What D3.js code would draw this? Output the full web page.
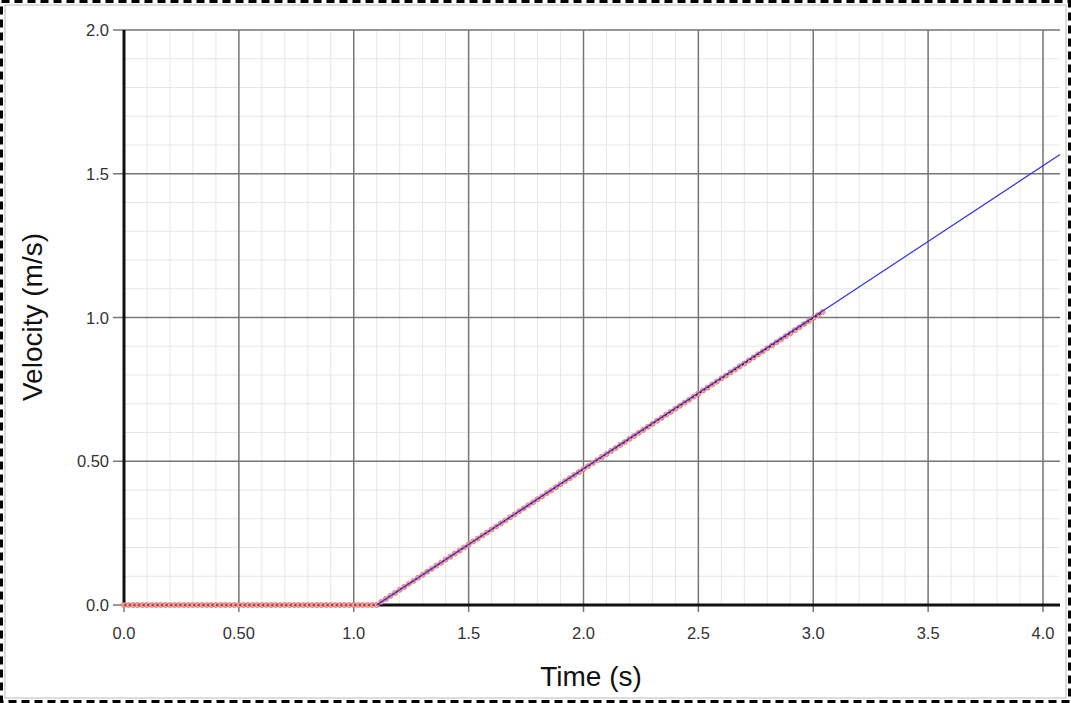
<!DOCTYPE html>
<html><head><meta charset="utf-8">
<script src="https://cdn.jsdelivr.net/npm/d3@7"></script>
<style>body{margin:0;background:#fff}svg{display:block;font-family:"Liberation Sans",Arial,sans-serif}</style>
</head><body><svg width="1071" height="703"></svg>
<script>
// measured velocities, 0.02 s apart starting at t = 0
const zeroCount = 56;
const rampVelocity = [
0.011,0.021,0.032,0.042,0.053,0.063,0.074,0.084,0.095,0.105,
0.116,0.126,0.137,0.147,0.158,0.168,0.179,0.189,0.200,0.210,
0.221,0.231,0.242,0.252,0.263,0.273,0.284,0.294,0.305,0.315,
0.326,0.336,0.347,0.357,0.368,0.378,0.389,0.399,0.410,0.420,
0.431,0.441,0.452,0.462,0.473,0.483,0.494,0.504,0.515,0.525,
0.536,0.546,0.557,0.567,0.578,0.588,0.599,0.609,0.620,0.630,
0.641,0.651,0.662,0.672,0.683,0.693,0.704,0.714,0.725,0.735,
0.746,0.756,0.767,0.777,0.788,0.798,0.809,0.819,0.830,0.840,
0.851,0.861,0.872,0.882,0.893,0.903,0.914,0.924,0.935,0.945,
0.956,0.966,0.977,0.987,0.998,1.008,1.019];
const velocity = new Array(zeroCount).fill(0).concat(rampVelocity);
const timeStep = 0.02;
const fitTime = [1.10, 4.074];
const fitVelocity = [0, 1.567];
const xTicks = [0, 0.5, 1, 1.5, 2, 2.5, 3, 3.5, 4];
const xLabels = ["0.0","0.50","1.0","1.5","2.0","2.5","3.0","3.5","4.0"];
const yTicks = [0, 0.5, 1, 1.5, 2];
const yLabels = ["0.0","0.50","1.0","1.5","2.0"];

const svg = d3.select("svg");
const x = d3.scaleLinear().domain([0, 4.074]).range([124, 1060]);
const y = d3.scaleLinear().domain([0, 2]).range([605, 30]);

// page borders
svg.append("rect").attr("x",1.5).attr("y",1.5).attr("width",1068).attr("height",700)
  .attr("fill","none").attr("stroke","#000").attr("stroke-width",3).attr("stroke-dasharray","8,5");
svg.append("rect").attr("x",5).attr("y",5).attr("width",1061).attr("height",693)
  .attr("fill","none").attr("stroke","#bbb").attr("stroke-width",1);

// minor grid
const minorX = d3.range(0, 41).map(i => i / 10).filter(v => v <= 4.074);
const minorY = d3.range(0, 21).map(i => i / 10);
svg.append("g").selectAll("line").data(minorX).join("line")
  .attr("x1", d => x(d)).attr("x2", d => x(d)).attr("y1", 30).attr("y2", 605)
  .attr("stroke", "#e6e6e6").attr("stroke-width", 1);
svg.append("g").selectAll("line").data(minorY).join("line")
  .attr("y1", d => y(d)).attr("y2", d => y(d)).attr("x1", 124).attr("x2", 1060)
  .attr("stroke", "#e6e6e6").attr("stroke-width", 1);

// major grid
svg.append("g").selectAll("line").data(xTicks).join("line")
  .attr("x1", d => x(d)).attr("x2", d => x(d)).attr("y1", 30).attr("y2", 612)
  .attr("stroke", "#777").attr("stroke-width", 1.5);
svg.append("g").selectAll("line").data(yTicks).join("line")
  .attr("y1", d => y(d)).attr("y2", d => y(d)).attr("x1", 113).attr("x2", 1060)
  .attr("stroke", "#777").attr("stroke-width", 1.5);

// axes
svg.append("line").attr("x1",124).attr("x2",124).attr("y1",30).attr("y2",605).attr("stroke","#111").attr("stroke-width",3);
svg.append("line").attr("x1",124).attr("x2",1060).attr("y1",605).attr("y2",605).attr("stroke","#111").attr("stroke-width",3);

svg.append("g").selectAll("text").data(xTicks).join("text")
  .attr("x", d => x(d)).attr("y", 639).attr("text-anchor","middle")
  .attr("font-size",16.5).attr("fill","#333").text((d,i) => xLabels[i]);
svg.append("g").selectAll("text").data(yTicks).join("text")
  .attr("x", 109).attr("y", d => y(d) + 6).attr("text-anchor","end")
  .attr("font-size",16.5).attr("fill","#333").text((d,i) => yLabels[i]);

svg.append("text").attr("x",591).attr("y",686).attr("text-anchor","middle").attr("font-size",28).attr("fill","#111").text("Time (s)");
svg.append("text").attr("transform","translate(42,317) rotate(-90)").attr("text-anchor","middle").attr("font-size",28).attr("fill","#111").text("Velocity (m/s)");

// data points
svg.append("g").selectAll("circle").data(velocity).join("circle")
  .attr("cx", (d,i) => x(i * timeStep)).attr("cy", d => y(d)).attr("r", 2.6)
  .attr("fill", "#f4a0a0").attr("stroke", "#e06060").attr("stroke-width", 0.6);
svg.append("path").datum(velocity)
  .attr("d", d3.line().x((d,i) => x(i * timeStep)).y(d => y(d)))
  .attr("fill","none").attr("stroke","#300").attr("stroke-width",1.2).attr("stroke-dasharray","2,2.6");

// fit line
svg.append("path").datum(fitTime.map((t,i) => [t, fitVelocity[i]]))
  .attr("d", d3.line().x(d => x(d[0])).y(d => y(d[1])))
  .attr("fill","none").attr("stroke","#3333dd").attr("stroke-width",1.2);
</script></body></html>
